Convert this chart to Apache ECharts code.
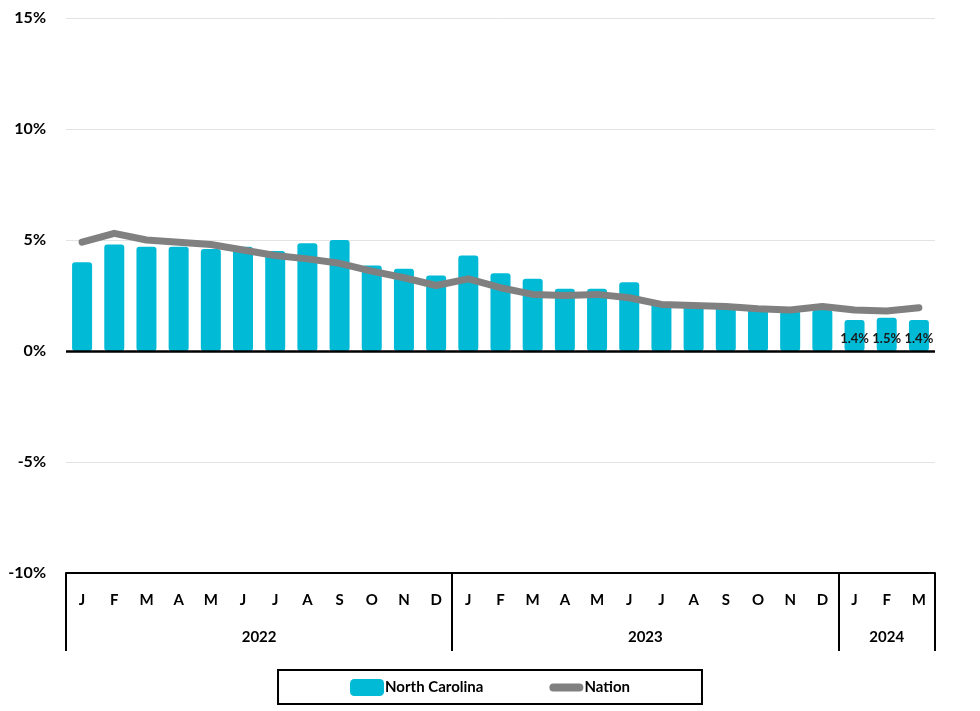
<!doctype html>
<html lang="en">
<head>
	<meta charset="UTF-8">
	<title>North Carolina vs Nation</title>
	<script src="https://cdn.jsdelivr.net/npm/echarts@6/dist/echarts.min.js"></script>
	<style>
		html, body { margin: 0; padding: 0; background: #fff; }
		#main { width: 980px; height: 711px; }
	</style>
</head>
<body>
<div id="main"></div>
<script type="text/javascript">
	// months, Jan 2022 .. Mar 2024
	var months = ['J','F','M','A','M','J','J','A','S','O','N','D',
		'J','F','M','A','M','J','J','A','S','O','N','D',
		'J','F','M'];
	var years = ['2022', '2023', '2024'];
	var monthsPerYear = [12, 12, 3];

	// year-over-year change, percent
	var northCarolina = [4.0, 4.8, 4.7, 4.7, 4.6, 4.7, 4.5, 4.85, 5.0, 3.85, 3.7, 3.4,
		4.3, 3.5, 3.25, 2.8, 2.8, 3.1, 2.2, 2.15, 2.0, 1.9, 1.8, 1.85,
		1.4, 1.5, 1.4];
	var nation = [4.9, 5.3, 5.0, 4.9, 4.8, 4.55, 4.3, 4.15, 3.95, 3.6, 3.3, 2.95,
		3.25, 2.85, 2.55, 2.5, 2.55, 2.4, 2.1, 2.05, 2.0, 1.9, 1.85, 2.0,
		1.85, 1.8, 1.95];
	var labelledFrom = 24; // only the 2024 bars carry a value label

	var yTicks = [-10, -5, 0, 5, 10, 15];

	var font = 'Lato';

	// year band boundaries and centres on a 0..27 scale
	var yearEdges = [0];
	var yearMids = [];
	monthsPerYear.forEach(function (n, i) {
		yearMids.push(yearEdges[i] + n / 2);
		yearEdges.push(yearEdges[i] + n);
	});

	var barData = northCarolina.map(function (v, i) {
		if (i >= labelledFrom) {
			return { value: v, label: { show: true } };
		}
		return v;
	});

	var myChart = echarts.init(document.getElementById('main'));
	var option = {
		animation: false,
		textStyle: { fontFamily: font },
		grid: { left: 66, right: 45, top: 18, bottom: 138 },
		legend: {
			bottom: 7,
			left: 'center',
			data: [
				{ name: 'North Carolina', icon: 'roundRect' },
				{ name: 'Nation', icon: 'path://M4,0H30A4,4 0 0 1 30,8H4A4,4 0 0 1 4,0Z' }
			],
			itemWidth: 34,
			itemHeight: 17,
			itemGap: 66,
			padding: [9, 72, 8, 72],
			borderColor: '#000',
			borderWidth: 2,
			textStyle: { fontFamily: font, fontWeight: 'bold', fontSize: 15, color: '#000', padding: [0, 0, 0, -4] }
		},
		xAxis: [
			{
				type: 'category',
				data: months,
				position: 'bottom',
				axisLine: { onZero: false, lineStyle: { color: '#000', width: 2 } },
				axisTick: { show: false },
				axisLabel: { interval: 0, margin: 20, color: '#000', fontWeight: 'bold', fontSize: 15, fontFamily: font },
				splitLine: { show: false }
			},
			{
				type: 'value',
				min: 0,
				max: months.length,
				position: 'bottom',
				axisLine: { show: false, onZero: false },
				splitLine: { show: false },
				axisTick: {
					show: true,
					customValues: yearEdges,
					length: 78,
					lineStyle: { color: '#000', width: 2 }
				},
				axisLabel: {
					customValues: yearMids,
					margin: 57,
					color: '#000',
					fontWeight: 'bold',
					fontSize: 15,
					fontFamily: font,
					formatter: function (v) {
						var i = yearMids.indexOf(v);
						return i >= 0 ? years[i] : '';
					}
				}
			}
		],
		yAxis: {
			type: 'value',
			min: yTicks[0],
			max: yTicks[yTicks.length - 1],
			interval: 5,
			axisLine: { show: false },
			axisTick: { show: false },
			axisLabel: {
				margin: 20,
				color: '#000',
				fontWeight: 'bold',
				fontSize: 16,
				fontFamily: font,
				formatter: '{value}%'
			},
			splitLine: { lineStyle: { color: '#e3e3e3', width: 1 } }
		},
		series: [
			{
				name: 'North Carolina',
				type: 'bar',
				xAxisIndex: 0,
				data: barData,
				barWidth: 20,
				itemStyle: {
					color: '#00BAD6',
					borderRadius: 3
				},
				label: {
					show: false,
					position: 'insideBottom',
					distance: 6,
					color: '#1a1a1a',
					fontWeight: 'bold',
					fontSize: 13,
					fontFamily: font,
					formatter: function (p) { return p.value.toFixed(1) + '%'; }
				},
				markLine: {
					silent: true,
					symbol: 'none',
					label: { show: false },
					lineStyle: { color: '#000', width: 2.5, type: 'solid' },
					data: [{ yAxis: 0 }]
				},
				z: 2
			},
			{
				name: 'Nation',
				type: 'line',
				xAxisIndex: 0,
				data: nation,
				symbol: 'none',
				lineStyle: { color: '#808080', width: 7, cap: 'round', join: 'round' },
				itemStyle: { color: '#808080' },
				z: 3
			}
		]
	};
	myChart.setOption(option);
</script>
</body>
</html>
